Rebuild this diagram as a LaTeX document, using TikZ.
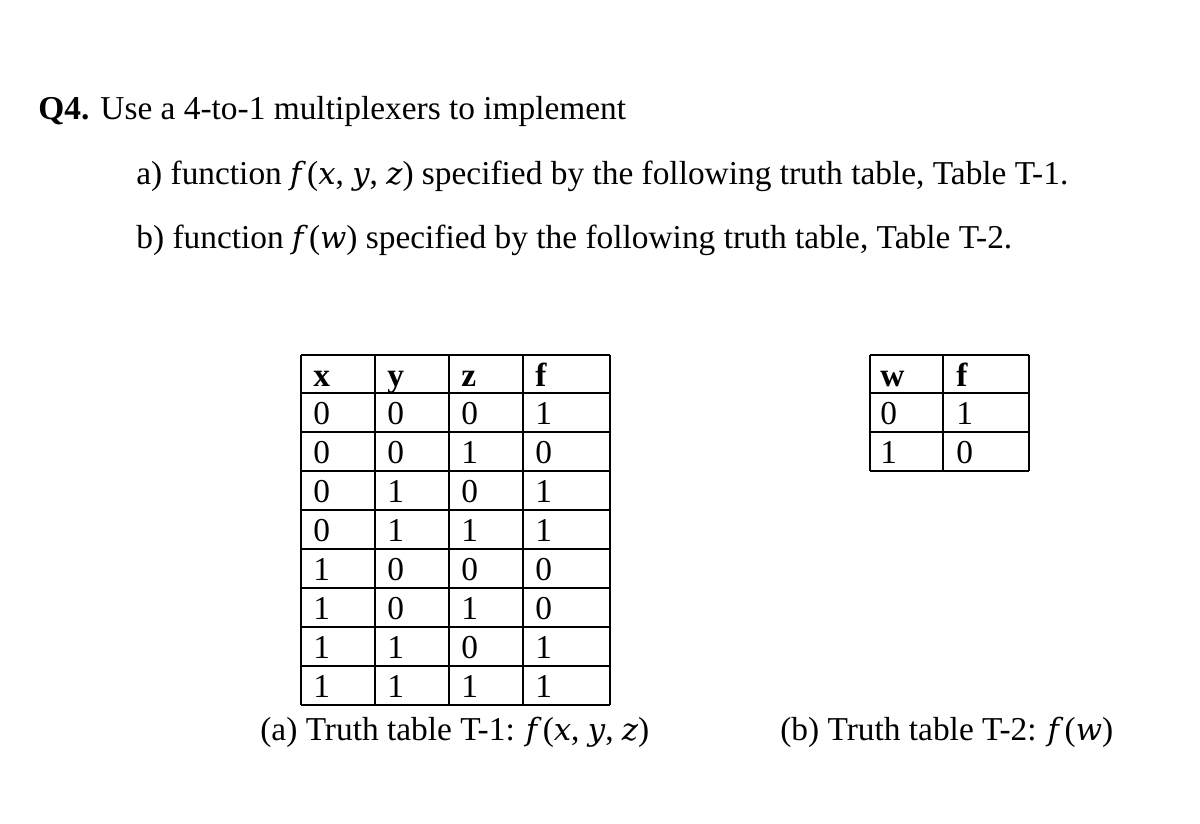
\documentclass[tikz,border=0pt]{standalone}
\usepackage{fontspec}
\setmainfont{Liberation Serif}
\newfontfamily\myitfont{DejaVu Serif}[Scale=0.92]
\newcommand{\mi}[1]{{\myitfont\itshape #1}}
\begin{document}
\begin{tikzpicture}[x=0.02cm,y=-0.02cm,
  txt/.style={anchor=base west,inner sep=0,font=\fontsize{19}{22}\selectfont},
  cell/.style={anchor=base west,inner sep=0,font=\fontsize{19}{22}\selectfont},
  hd/.style={anchor=base west,inner sep=0,font=\fontsize{19}{22}\selectfont\bfseries},
  grid/.style={line width=1.2pt}]
\useasboundingbox (0,0) rectangle (1200,824);
\node[txt] (q) at (38,120) {\textbf{Q4.} Use a 4-to-1 multiplexers to implement};
\node[txt] (a) at (136,185) {a) function \mi{f}\,(\mi{x}, \mi{y}, \mi{z}) specified by the following truth table, Table T-1.};
\node[txt] (b) at (136,249) {b) function \mi{f}\,(\mi{w}) specified by the following truth table, Table T-2.};
% Table T-1
\foreach \yy in {355,393,432,471,510,549,588,627,666,705} \draw[grid] (301,\yy) -- (610,\yy);
\foreach \xx in {301,375,449,523,610} \draw[grid] (\xx,355) -- (\xx,705);
\foreach \t [count=\i from 0] in {x,y,z,f} \node[hd] (h\i) at (313+74*\i,386) {\t};
\foreach \r [count=\j from 1] in {{0,0,0,1},{0,0,1,0},{0,1,0,1},{0,1,1,1},{1,0,0,0},{1,0,1,0},{1,1,0,1},{1,1,1,1}}{
  \foreach \v [count=\i from 0] in \r
    \node[cell] (c\j\i) at (313+74*\i,385+39*\j) {\v};
}
\node[txt] (capa) at (260,740) {(a) Truth table T-1: \mi{f}\,(\mi{x}, \mi{y}, \mi{z})};
% Table T-2
\foreach \yy in {355,393,432,471} \draw[grid] (870,\yy) -- (1029,\yy);
\foreach \xx in {870,943,1029} \draw[grid] (\xx,355) -- (\xx,471);
\node[hd] (hw) at (880,386) {w};
\node[hd] (hf) at (956,386) {f};
\node[cell] (w0) at (880,424) {0};
\node[cell] (f0) at (956,424) {1};
\node[cell] (w1) at (880,463) {1};
\node[cell] (f1) at (956,463) {0};
\node[txt] (capb) at (780,740) {(b) Truth table T-2: \mi{f}\,(\mi{w})};
\end{tikzpicture}
\end{document}
